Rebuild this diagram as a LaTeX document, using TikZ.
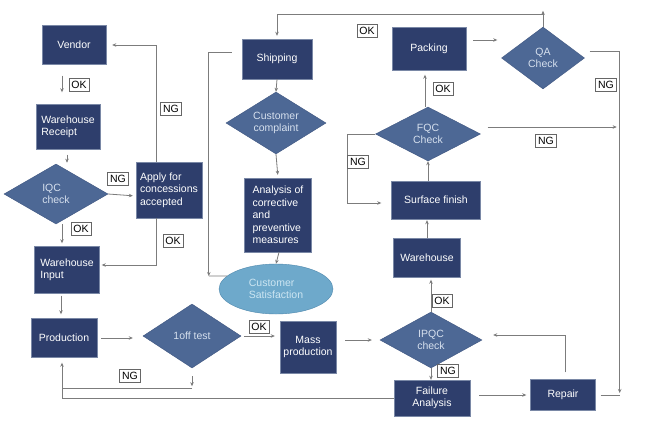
\documentclass[tikz,border=0pt]{standalone}
\usepackage{fontspec}
\setmainfont{Liberation Sans}
\usetikzlibrary{shapes.geometric,arrows.meta,calc}
\definecolor{boxblue}{HTML}{2E3E6C}
\definecolor{boxedge}{HTML}{7A88A6}
\definecolor{diablue}{HTML}{4D6895}
\definecolor{diaedge}{HTML}{3E5580}
\definecolor{diatext}{HTML}{D6E0EE}
\definecolor{ellblue}{HTML}{6EA9CB}
\definecolor{elledge}{HTML}{5089AE}
\definecolor{elltext}{HTML}{CDE6F2}
\definecolor{linegray}{HTML}{7C7C7C}

\begin{document}
\begin{tikzpicture}[x=1pt,y=-1pt,
    every node/.style={font=\fontsize{10.5}{12.5}\selectfont},
    blk/.style={rectangle,draw=boxedge,fill=boxblue,text=white,inner sep=2pt},
    dia/.style={diamond,draw=diaedge,fill=diablue,text=diatext,inner sep=0pt,aspect=1.6},
    lab/.style={draw=gray!80!black,fill=white,inner sep=2.5pt,line width=0.7pt,font=\fontsize{10.5}{12}\selectfont},
    arr/.style={draw=linegray,line width=0.8pt,-{Stealth[length=4pt,width=3.5pt]}},
    ln/.style={draw=linegray,line width=0.8pt}]

      \useasboundingbox[fill=white] (0,0) rectangle (650,429);

      \begin{scope}[every node/.append style={blk}]
        \node[minimum width=64,minimum height=39] (vendor) at (74,45) {Vendor};
        \node[minimum width=64,minimum height=45,align=left] (wrec) at (68,127) {Warehouse\\Receipt};
        \node[minimum width=66,minimum height=56,align=left] (apply) at (169,190) {Apply for\\concessions\\accepted};
        \node[minimum width=65,minimum height=47,align=left] (winput) at (67,270) {Warehouse\\Input};
        \node[minimum width=66,minimum height=39] (prod) at (64,338) {Production};
        \node[minimum width=56,minimum height=52,align=center] (mass) at (308,347) {Mass\\production};
        \node[minimum width=76,minimum height=36,align=center] (fail) at (432,398) {Failure\\Analysis};
        \node[minimum width=65,minimum height=31] (repair) at (563,395) {Repair};
        \node[minimum width=67,minimum height=39] (whouse) at (427,258) {Warehouse};
        \node[minimum width=89,minimum height=38] (surf) at (436,200) {Surface finish};
        \node[minimum width=74,minimum height=43] (pack) at (429,49) {Packing};
        \node[minimum width=70,minimum height=40] (ship) at (277,59) {Shipping};
        \node[minimum width=67,minimum height=74,align=left] (anal) at (278,215) {Analysis of\\corrective\\and\\preventive\\measures};
      \end{scope}

      \begin{scope}[every node/.append style={dia}]
        \node[minimum width=104,minimum height=60,align=left] (iqc) at (56,194) {IQC\\check};
        \node[minimum width=98,minimum height=64] (off) at (192,336) {1off test};
        \node[minimum width=102,minimum height=56,align=center] (ipqc) at (431,340) {IPQC\\check};
        \node[minimum width=105,minimum height=54,align=center] (fqc) at (428,134) {FQC\\Check};
        \node[minimum width=83,minimum height=62,align=center] (qa) at (543,58) {QA\\Check};
        \node[minimum width=100,minimum height=62,align=center] (cc) at (276,123) {Customer\\complaint};
      \end{scope}

      \node[ellipse,draw=elledge,fill=ellblue,text=elltext,minimum width=114,minimum height=50,
        inner sep=0pt,align=left] (cs) at (276,289) {Customer\\Satisfaction};

      % incoming material
      \draw[arr,shorten <=11pt,shorten >=12pt] ([xshift=-12pt]vendor.south) -- ([xshift=-6pt]wrec.north);
      \draw[arr,shorten <=5pt] ([xshift=-1pt]wrec.south) -- ++(0,13);
      \draw[arr,shorten >=3pt] (iqc.east) -- ([yshift=-6pt]apply.west);
      \draw[arr,shorten >=6pt] ([xshift=-13pt]apply.north) |- (vendor.east);
      \draw[arr,shorten >=3pt] ([xshift=6pt]iqc.south) -- ([xshift=-5pt]winput.north);
      \draw[arr,shorten >=2pt] ([xshift=-13pt]apply.south) |- ([yshift=5pt]winput.east);
      \draw[arr,shorten <=2pt,shorten >=4pt] ([xshift=-6pt]winput.south) -- ([xshift=-3pt]prod.north);

      % production line
      \draw[arr,shorten <=4pt,shorten >=10pt] (prod.east) -- (prod.east -| off.west);
      \draw[arr,shorten <=3pt,shorten >=5pt] (off.east) -- (off.east -| mass.west);
      \draw[arr] ($(off.south)+(0,8)$) -- ++(0,10);
      \draw[ln] ($(off.south)+(0,20)$) -- ($(off.south)+(-130,20)$);
      \draw[arr,shorten >=5pt] (fail.west) -| ([xshift=-2pt]prod.south);
      \draw[arr,shorten <=9pt,shorten >=8pt] (mass.east |- ipqc.west) -- (ipqc.west);
      \draw[arr,shorten >=2pt] (ipqc.north) -- (ipqc.north |- whouse.south);
      \draw[arr] (ipqc.south) -- (ipqc.south |- fail.north);
      \draw[arr,shorten <=9pt,shorten >=4pt] (fail.east |- repair.west) -- (repair.west);
      \draw[arr,shorten <=7pt,shorten >=11pt] ([xshift=2pt]repair.north) |- ([yshift=5pt]ipqc.east);

      % finishing
      \coordinate (rt) at ($(repair.east)+(24,0)$);
      \draw[arr,shorten >=1pt] (whouse.north) -- (whouse.north |- surf.south);
      \draw[arr] (fqc.south |- surf.north) -- (fqc.south);
      \draw[arr,shorten >=10pt] (fqc.west) -- ++(-28,0) |- ([yshift=-3pt]surf.west);
      \draw[arr,shorten <=7pt,shorten >=3pt] ([yshift=7pt]fqc.east) -- ([yshift=7pt]fqc.east -| rt);
      \draw[arr,shorten >=4pt] ([xshift=-3pt]fqc.north) -- ([xshift=-4pt]pack.south);
      \draw[arr,shorten <=7pt,shorten >=4pt] ([yshift=9pt]pack.east) -- ([yshift=9pt]pack.east -| qa.west);
      \draw[arr,shorten <=5pt,shorten >=2pt] ([yshift=7pt]qa.east) -| (rt);
      \draw[ln,shorten <=5pt] (repair.east) -- (rt);

      % shipping
      \draw[arr] (qa.north) -- ++(0,-16);
      \draw[arr,shorten >=3pt] ($(qa.north)+(0,-12)$) -| (ship.north);
      \draw[arr] (ship.south) -- (cc.north);
      \draw[arr,shorten >=3pt] (cc.south) -- (anal.north);
      \draw[arr] ([xshift=1pt]anal.south) -- (cs.north);
      \draw[arr,shorten <=10pt] ([yshift=7pt]ship.west) -| ($(cs.west)+(-10,-13)$);
      \draw[ln] ($(cs.west)+(-10,-13)$) -- (cs.165);

      % OK / NG tags
      \begin{scope}[every node/.append style={lab}]
        \node (ok1) at (79,85) {OK};
        \node (ng1) at (118,179) {NG};
        \node (ng2) at (171,109) {NG};
        \node (ok2) at (81,229) {OK};
        \node (ok3) at (173,241) {OK};
        \node (ok4) at (259,327) {OK};
        \node (ng3) at (130,376) {NG};
        \node (ok5) at (442,301) {OK};
        \node (ng4) at (448,371) {NG};
        \node (ok6) at (367,31) {OK};
        \node (ok7) at (443,89) {OK};
        \node (ng5) at (606,85) {NG};
        \node (ng6) at (546,141) {NG};
        \node (ng7) at (358,162) {NG};
      \end{scope}

    \end{tikzpicture}
\end{document}
